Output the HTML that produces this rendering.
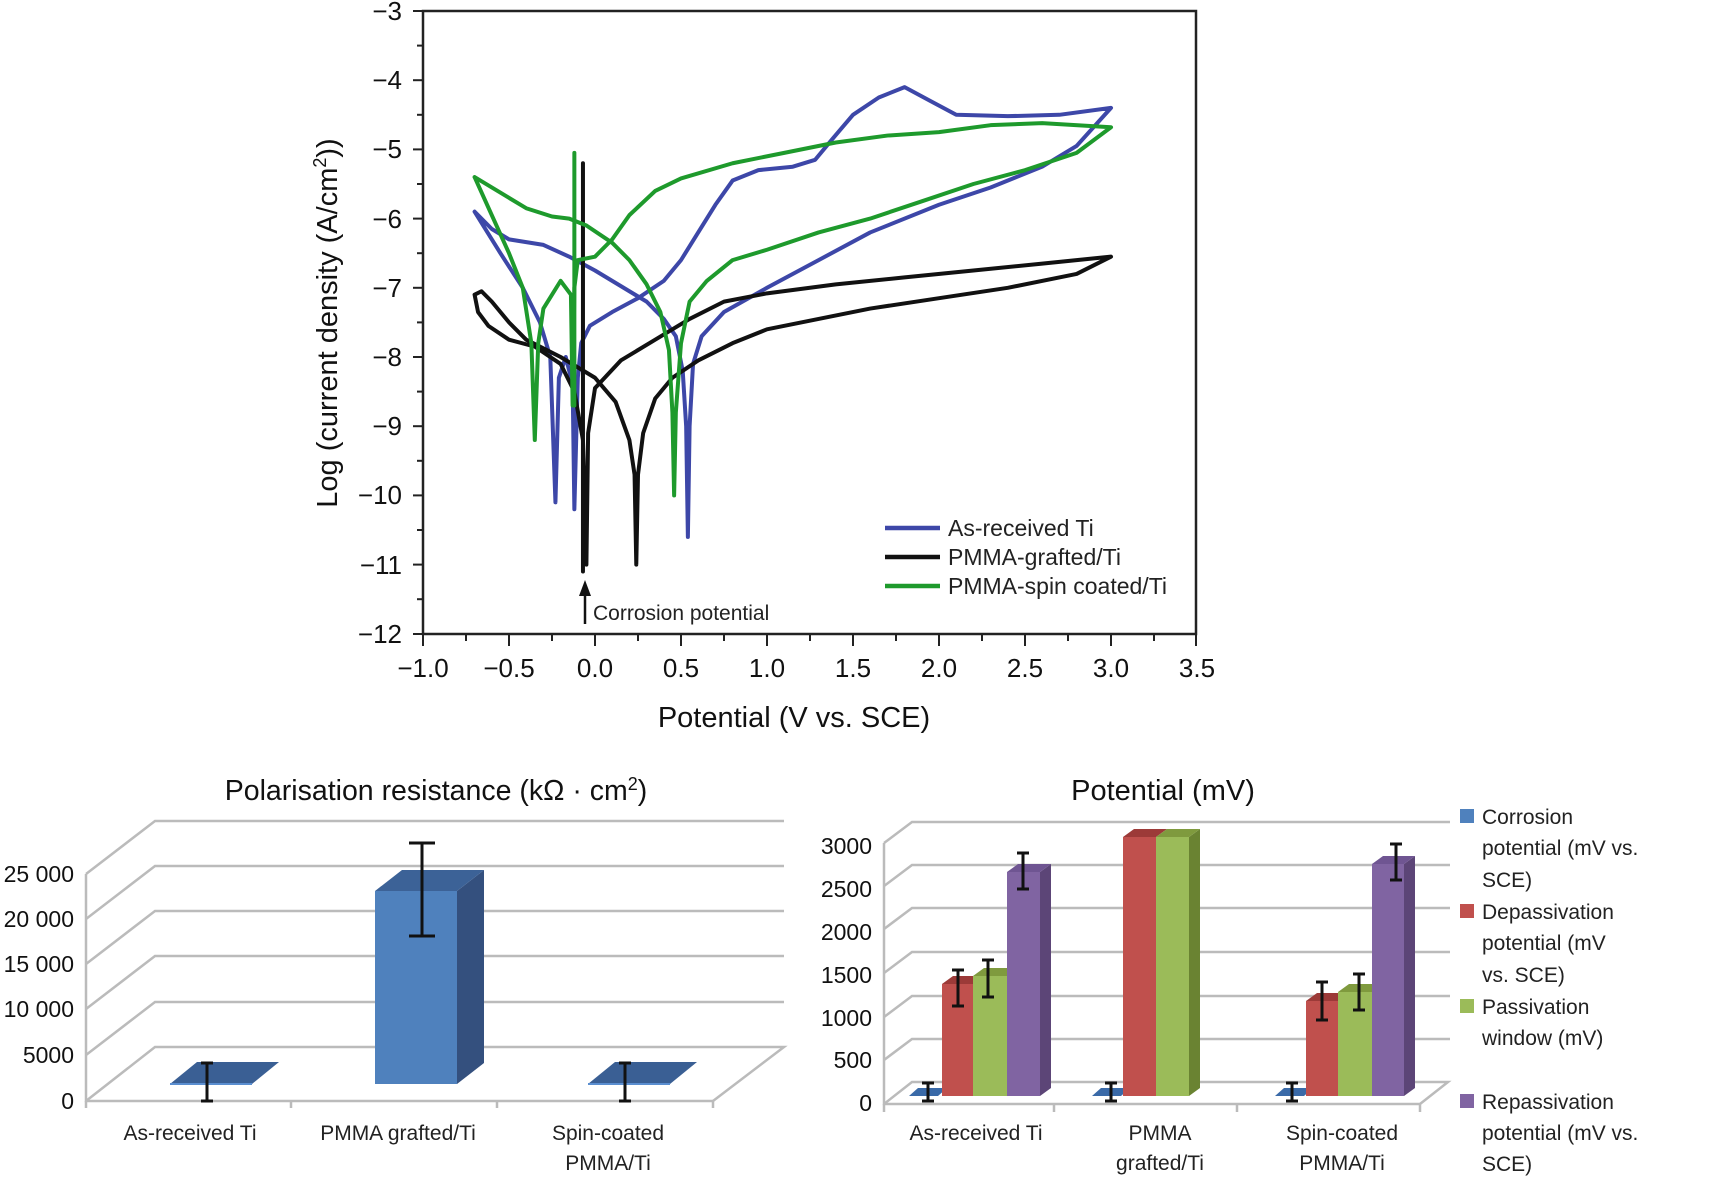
<!DOCTYPE html>
<html><head><meta charset="utf-8"><style>
html,body{margin:0;padding:0;background:#fff;}
svg{display:block;font-family:"Liberation Sans",sans-serif;}
</style></head><body>
<svg width="1712" height="1180" viewBox="0 0 1712 1180" xmlns="http://www.w3.org/2000/svg">
<!-- TOP PLOT -->
<rect x="423" y="11" width="773" height="623" fill="none" stroke="#222" stroke-width="2.5"/>
<g stroke="#222" stroke-width="2">
<line x1="423" y1="11" x2="413" y2="11"/><line x1="423" y1="80.2" x2="413" y2="80.2"/><line x1="423" y1="149.4" x2="413" y2="149.4"/><line x1="423" y1="218.6" x2="413" y2="218.6"/><line x1="423" y1="287.8" x2="413" y2="287.8"/><line x1="423" y1="357" x2="413" y2="357"/><line x1="423" y1="426.2" x2="413" y2="426.2"/><line x1="423" y1="495.4" x2="413" y2="495.4"/><line x1="423" y1="564.6" x2="413" y2="564.6"/><line x1="423" y1="634" x2="413" y2="634"/>
<line x1="423" y1="45.6" x2="417" y2="45.6"/><line x1="423" y1="114.8" x2="417" y2="114.8"/><line x1="423" y1="184" x2="417" y2="184"/><line x1="423" y1="253.2" x2="417" y2="253.2"/><line x1="423" y1="322.4" x2="417" y2="322.4"/><line x1="423" y1="391.6" x2="417" y2="391.6"/><line x1="423" y1="460.8" x2="417" y2="460.8"/><line x1="423" y1="530" x2="417" y2="530"/><line x1="423" y1="599.2" x2="417" y2="599.2"/>
<line x1="423" y1="634" x2="423" y2="646"/><line x1="509" y1="634" x2="509" y2="646"/><line x1="595" y1="634" x2="595" y2="646"/><line x1="681" y1="634" x2="681" y2="646"/><line x1="767" y1="634" x2="767" y2="646"/><line x1="853" y1="634" x2="853" y2="646"/><line x1="939" y1="634" x2="939" y2="646"/><line x1="1025" y1="634" x2="1025" y2="646"/><line x1="1111" y1="634" x2="1111" y2="646"/><line x1="1196" y1="634" x2="1196" y2="646"/>
<line x1="466" y1="634" x2="466" y2="641"/><line x1="552" y1="634" x2="552" y2="641"/><line x1="638" y1="634" x2="638" y2="641"/><line x1="724" y1="634" x2="724" y2="641"/><line x1="810" y1="634" x2="810" y2="641"/><line x1="896" y1="634" x2="896" y2="641"/><line x1="982" y1="634" x2="982" y2="641"/><line x1="1068" y1="634" x2="1068" y2="641"/><line x1="1154" y1="634" x2="1154" y2="641"/>
</g>
<g font-size="26" fill="#111" text-anchor="end">
<text x="402" y="20">−3</text><text x="402" y="89">−4</text><text x="402" y="158">−5</text><text x="402" y="228">−6</text><text x="402" y="297">−7</text><text x="402" y="366">−8</text><text x="402" y="435">−9</text><text x="402" y="504">−10</text><text x="402" y="574">−11</text><text x="402" y="643">−12</text>
</g>
<g font-size="26" fill="#111" text-anchor="middle">
<text x="423" y="677">−1.0</text><text x="509" y="677">−0.5</text><text x="595" y="677">0.0</text><text x="681" y="677">0.5</text><text x="767" y="677">1.0</text><text x="853" y="677">1.5</text><text x="939" y="677">2.0</text><text x="1025" y="677">2.5</text><text x="1111" y="677">3.0</text><text x="1197" y="677">3.5</text>
<text x="794" y="727" font-size="29">Potential (V vs. SCE)</text>
<text transform="translate(337,323) rotate(-90)" font-size="29">Log (current density (A/cm<tspan font-size="18" dy="-11">2</tspan><tspan dy="11">))</tspan></text>
</g>
<g transform="matrix(172 0 0 -69.2 595 -196.6)" fill="none" stroke-width="4" stroke-linejoin="round" stroke-linecap="round">
<path vector-effect="non-scaling-stroke" stroke="#3d47a8" d="M-0.7,-5.9 L-0.6,-6.15 -0.5,-6.3 -0.3,-6.38 -0.15,-6.55 0,-6.75 0.1,-6.9 0.3,-7.2 0.4,-7.45 0.47,-7.7 0.51,-8.2 0.53,-9 0.54,-10.6 0.55,-9 0.57,-8.1 0.62,-7.7 0.75,-7.35 1.0,-7.0 1.3,-6.6 1.6,-6.2 2.0,-5.8 2.3,-5.55 2.6,-5.25 2.8,-4.95 3.0,-4.4 2.7,-4.5 2.4,-4.52 2.1,-4.5 1.95,-4.3 1.8,-4.1 1.65,-4.25 1.5,-4.5 1.38,-4.85 1.28,-5.15 1.15,-5.25 0.95,-5.3 0.8,-5.45 0.7,-5.8 0.6,-6.2 0.5,-6.6 0.4,-6.9 0.25,-7.15 0.1,-7.35 -0.03,-7.55 -0.08,-7.8 -0.1,-8.3 -0.12,-10.2 -0.13,-8.4 -0.17,-8.0 -0.21,-8.3 -0.23,-10.1 -0.26,-8.0 -0.32,-7.5 -0.42,-7.0 -0.55,-6.5 -0.7,-5.9"/>
<path vector-effect="non-scaling-stroke" stroke="#111" d="M-0.7,-7.1 L-0.66,-7.05 -0.6,-7.2 -0.5,-7.5 -0.4,-7.75 -0.2,-8.0 0,-8.3 0.12,-8.65 0.2,-9.2 0.23,-9.7 0.24,-11 0.25,-9.7 0.28,-9.1 0.35,-8.6 0.45,-8.3 0.6,-8.05 0.8,-7.8 1.0,-7.6 1.3,-7.45 1.6,-7.3 2.0,-7.15 2.4,-7.0 2.8,-6.8 3.0,-6.55 2.6,-6.65 2.2,-6.75 1.8,-6.85 1.4,-6.95 1.0,-7.08 0.75,-7.2 0.55,-7.45 0.35,-7.75 0.15,-8.05 0.0,-8.45 -0.04,-9.1 -0.05,-11 -0.07,-9.2 -0.12,-8.5 -0.2,-8.1 -0.35,-7.85 -0.5,-7.75 -0.62,-7.55 -0.68,-7.35 -0.7,-7.1"/>
<path vector-effect="non-scaling-stroke" stroke="#111" d="M-0.07,-11.1 L-0.07,-5.2"/>
<path vector-effect="non-scaling-stroke" stroke="#1e9a2c" d="M-0.7,-5.4 L-0.6,-5.55 -0.5,-5.7 -0.4,-5.85 -0.25,-5.97 -0.15,-6.0 -0.05,-6.1 0.1,-6.35 0.2,-6.6 0.3,-6.95 0.38,-7.35 0.43,-7.9 0.45,-8.8 0.46,-10.0 0.47,-8.8 0.5,-7.8 0.55,-7.2 0.65,-6.9 0.8,-6.6 1.0,-6.45 1.3,-6.2 1.6,-6.0 1.9,-5.75 2.2,-5.5 2.5,-5.3 2.8,-5.05 3.0,-4.68 2.6,-4.62 2.3,-4.65 2.0,-4.75 1.7,-4.8 1.4,-4.9 1.1,-5.05 0.8,-5.2 0.5,-5.42 0.35,-5.6 0.2,-5.95 0.1,-6.3 0.0,-6.55 -0.1,-6.6 -0.12,-7.0 -0.13,-8.7 -0.14,-7.1 -0.2,-6.9 -0.3,-7.3 -0.33,-7.8 -0.35,-9.2 -0.37,-7.8 -0.42,-7.0 -0.5,-6.5 -0.6,-5.95 -0.7,-5.4"/>
<path vector-effect="non-scaling-stroke" stroke="#1e9a2c" d="M-0.12,-8.7 L-0.12,-5.05"/>
</g>
<line x1="885" y1="528" x2="940" y2="528" stroke="#3d47a8" stroke-width="4.5"/>
<line x1="885" y1="557" x2="940" y2="557" stroke="#111" stroke-width="4.5"/>
<line x1="885" y1="586" x2="940" y2="586" stroke="#1e9a2c" stroke-width="4.5"/>
<g font-size="23" fill="#222"><text x="948" y="536">As-received Ti</text><text x="948" y="565">PMMA-grafted/Ti</text><text x="948" y="594">PMMA-spin coated/Ti</text>
<text x="593" y="620" font-size="21">Corrosion potential</text></g>
<line x1="585" y1="624" x2="585" y2="592" stroke="#111" stroke-width="2.5"/>
<path d="M579,596 L585,580 L591,596 Z" fill="#111"/>

<!-- LEFT BAR CHART -->
<text x="436" y="800" font-size="28.5" text-anchor="middle" fill="#111">Polarisation resistance (kΩ · cm<tspan font-size="18" dy="-10">2</tspan><tspan dy="10">)</tspan></text>
<g stroke="#bbb" stroke-width="2.5" fill="none">
<path d="M86,874 L155,821 L784,821"/><path d="M86,919 L155,866 L784,866"/><path d="M86,964 L155,911 L784,911"/><path d="M86,1009 L155,956 L784,956"/><path d="M86,1055 L155,1002 L784,1002"/><path d="M86,1101 L155,1047 L784,1047 L713,1101"/>
<path d="M86,874 L86,1101 L713,1101"/>
<path d="M86,1101 v7 M291,1101 v7 M497,1101 v7 M713,1101 v7"/>
</g>
<g font-size="23" fill="#111" text-anchor="end"><text x="74" y="882">25 000</text><text x="74" y="927">20 000</text><text x="74" y="972">15 000</text><text x="74" y="1017">10 000</text><text x="74" y="1063">5000</text><text x="74" y="1109">0</text></g>
<path d="M170,1084 L252,1084 L279,1062 L197,1062 Z" fill="#3a5f94"/>
<path d="M170,1084 L252,1084" stroke="#5a8ed0" stroke-width="2"/>
<path d="M588,1084 L670,1084 L697,1062 L615,1062 Z" fill="#3a5f94"/>
<path d="M588,1084 L670,1084" stroke="#5a8ed0" stroke-width="2"/>
<rect x="375" y="891" width="82" height="193" fill="#4f81bd"/>
<path d="M457,891 L484,870 L484,1063 L457,1084 Z" fill="#34507e"/>
<path d="M375,891 L402,870 L484,870 L457,891 Z" fill="#3c6297"/>
<g stroke="#111" stroke-width="3"><path d="M207,1063 V1101 M201,1063 h12 M201,1101 h12"/><path d="M625,1063 V1101 M619,1063 h12 M619,1101 h12"/><path d="M422,843 V936 M409,843 h26 M409,936 h26"/></g>
<g font-size="21" fill="#222" text-anchor="middle"><text x="190" y="1140">As-received Ti</text><text x="398" y="1140">PMMA grafted/Ti</text><text x="608" y="1140">Spin-coated</text><text x="608" y="1170">PMMA/Ti</text></g>

<!-- RIGHT BAR CHART -->
<text x="1163" y="800" font-size="29" text-anchor="middle" fill="#111">Potential (mV)</text>
<g stroke="#bbb" stroke-width="2.5" fill="none">
<path d="M884,843 L912,822 L1450,822"/><path d="M884,886 L912,865 L1450,865"/><path d="M884,929 L912,908 L1450,908"/><path d="M884,973 L912,952 L1450,952"/><path d="M884,1017 L912,996 L1450,996"/><path d="M884,1060 L912,1039 L1450,1039"/><path d="M884,1104 L912,1082 L1448,1082 L1420,1104"/>
<path d="M884,843 L884,1104 L1420,1104"/>
<path d="M884,1104 v8 M1054,1104 v8 M1237,1104 v8 M1420,1104 v8"/>
</g>
<g font-size="23" fill="#111" text-anchor="end"><text x="872" y="854">3000</text><text x="872" y="897">2500</text><text x="872" y="940">2000</text><text x="872" y="983">1500</text><text x="872" y="1026">1000</text><text x="872" y="1068">500</text><text x="872" y="1111">0</text></g>
<path d="M909,1096 L938,1096 L947,1088 L918,1088 Z" fill="#3a6aa8"/>
<path d="M1092,1096 L1121,1096 L1130,1088 L1101,1088 Z" fill="#3a6aa8"/>
<path d="M1275,1096 L1304,1096 L1313,1088 L1284,1088 Z" fill="#3a6aa8"/>
<path d="M942,984 L953,976 L984,976 L973,984 Z" fill="#9c3a38"/><rect x="942" y="984" width="31" height="112" fill="#c0504d"/>
<path d="M973,976 L984,968 L1018,968 L1007,976 Z" fill="#7f9a3e"/><rect x="973" y="976" width="34" height="120" fill="#9bbb59"/>
<path d="M1040,872 L1051,864 L1051,1088 L1040,1096 Z" fill="#5c4577"/><path d="M1007,872 L1018,864 L1051,864 L1040,872 Z" fill="#6f5592"/><rect x="1007" y="872" width="33" height="224" fill="#8064a2"/>
<path d="M1123,837 L1134,829 L1167,829 L1156,837 Z" fill="#9c3a38"/><rect x="1123" y="837" width="33" height="259" fill="#c0504d"/>
<path d="M1189,837 L1200,829 L1200,1088 L1189,1096 Z" fill="#6a8332"/><path d="M1156,837 L1167,829 L1200,829 L1189,837 Z" fill="#7f9a3e"/><rect x="1156" y="837" width="33" height="259" fill="#9bbb59"/>
<path d="M1306,1001 L1317,993 L1349,993 L1338,1001 Z" fill="#9c3a38"/><rect x="1306" y="1001" width="32" height="95" fill="#c0504d"/>
<path d="M1338,992 L1349,984 L1383,984 L1372,992 Z" fill="#7f9a3e"/><rect x="1338" y="992" width="34" height="104" fill="#9bbb59"/>
<path d="M1404,864 L1415,856 L1415,1088 L1404,1096 Z" fill="#5c4577"/><path d="M1372,864 L1383,856 L1415,856 L1404,864 Z" fill="#6f5592"/><rect x="1372" y="864" width="32" height="232" fill="#8064a2"/>
<g stroke="#111" stroke-width="3">
<path d="M928,1083 V1101 M922,1083 h12 M922,1101 h12"/>
<path d="M1111,1083 V1101 M1105,1083 h12 M1105,1101 h12"/>
<path d="M1292,1083 V1101 M1286,1083 h12 M1286,1101 h12"/>
<path d="M958,970 V1006 M952,970 h12 M952,1006 h12"/>
<path d="M988,960 V997 M982,960 h12 M982,997 h12"/>
<path d="M1023,853 V889 M1017,853 h12 M1017,889 h12"/>
<path d="M1322,982 V1020 M1316,982 h12 M1316,1020 h12"/>
<path d="M1359,974 V1010 M1353,974 h12 M1353,1010 h12"/>
<path d="M1396,844 V880 M1390,844 h12 M1390,880 h12"/>
</g>
<g font-size="21" fill="#222" text-anchor="middle"><text x="976" y="1140">As-received Ti</text><text x="1160" y="1140">PMMA</text><text x="1160" y="1170">grafted/Ti</text><text x="1342" y="1140">Spin-coated</text><text x="1342" y="1170">PMMA/Ti</text></g>
<rect x="1460" y="809" width="14" height="14" fill="#4f81bd"/><rect x="1460" y="904" width="14" height="14" fill="#c0504d"/><rect x="1460" y="999" width="14" height="14" fill="#9bbb59"/><rect x="1460" y="1094" width="14" height="14" fill="#8064a2"/>
<g font-size="21" fill="#222">
<text x="1482" y="824">Corrosion</text><text x="1482" y="855">potential (mV vs.</text><text x="1482" y="887">SCE)</text>
<text x="1482" y="919">Depassivation</text><text x="1482" y="950">potential  (mV</text><text x="1482" y="982">vs. SCE)</text>
<text x="1482" y="1014">Passivation</text><text x="1482" y="1045">window  (mV)</text>
<text x="1482" y="1109">Repassivation</text><text x="1482" y="1140">potential (mV vs.</text><text x="1482" y="1171">SCE)</text>
</g>
</svg>
</body></html>
